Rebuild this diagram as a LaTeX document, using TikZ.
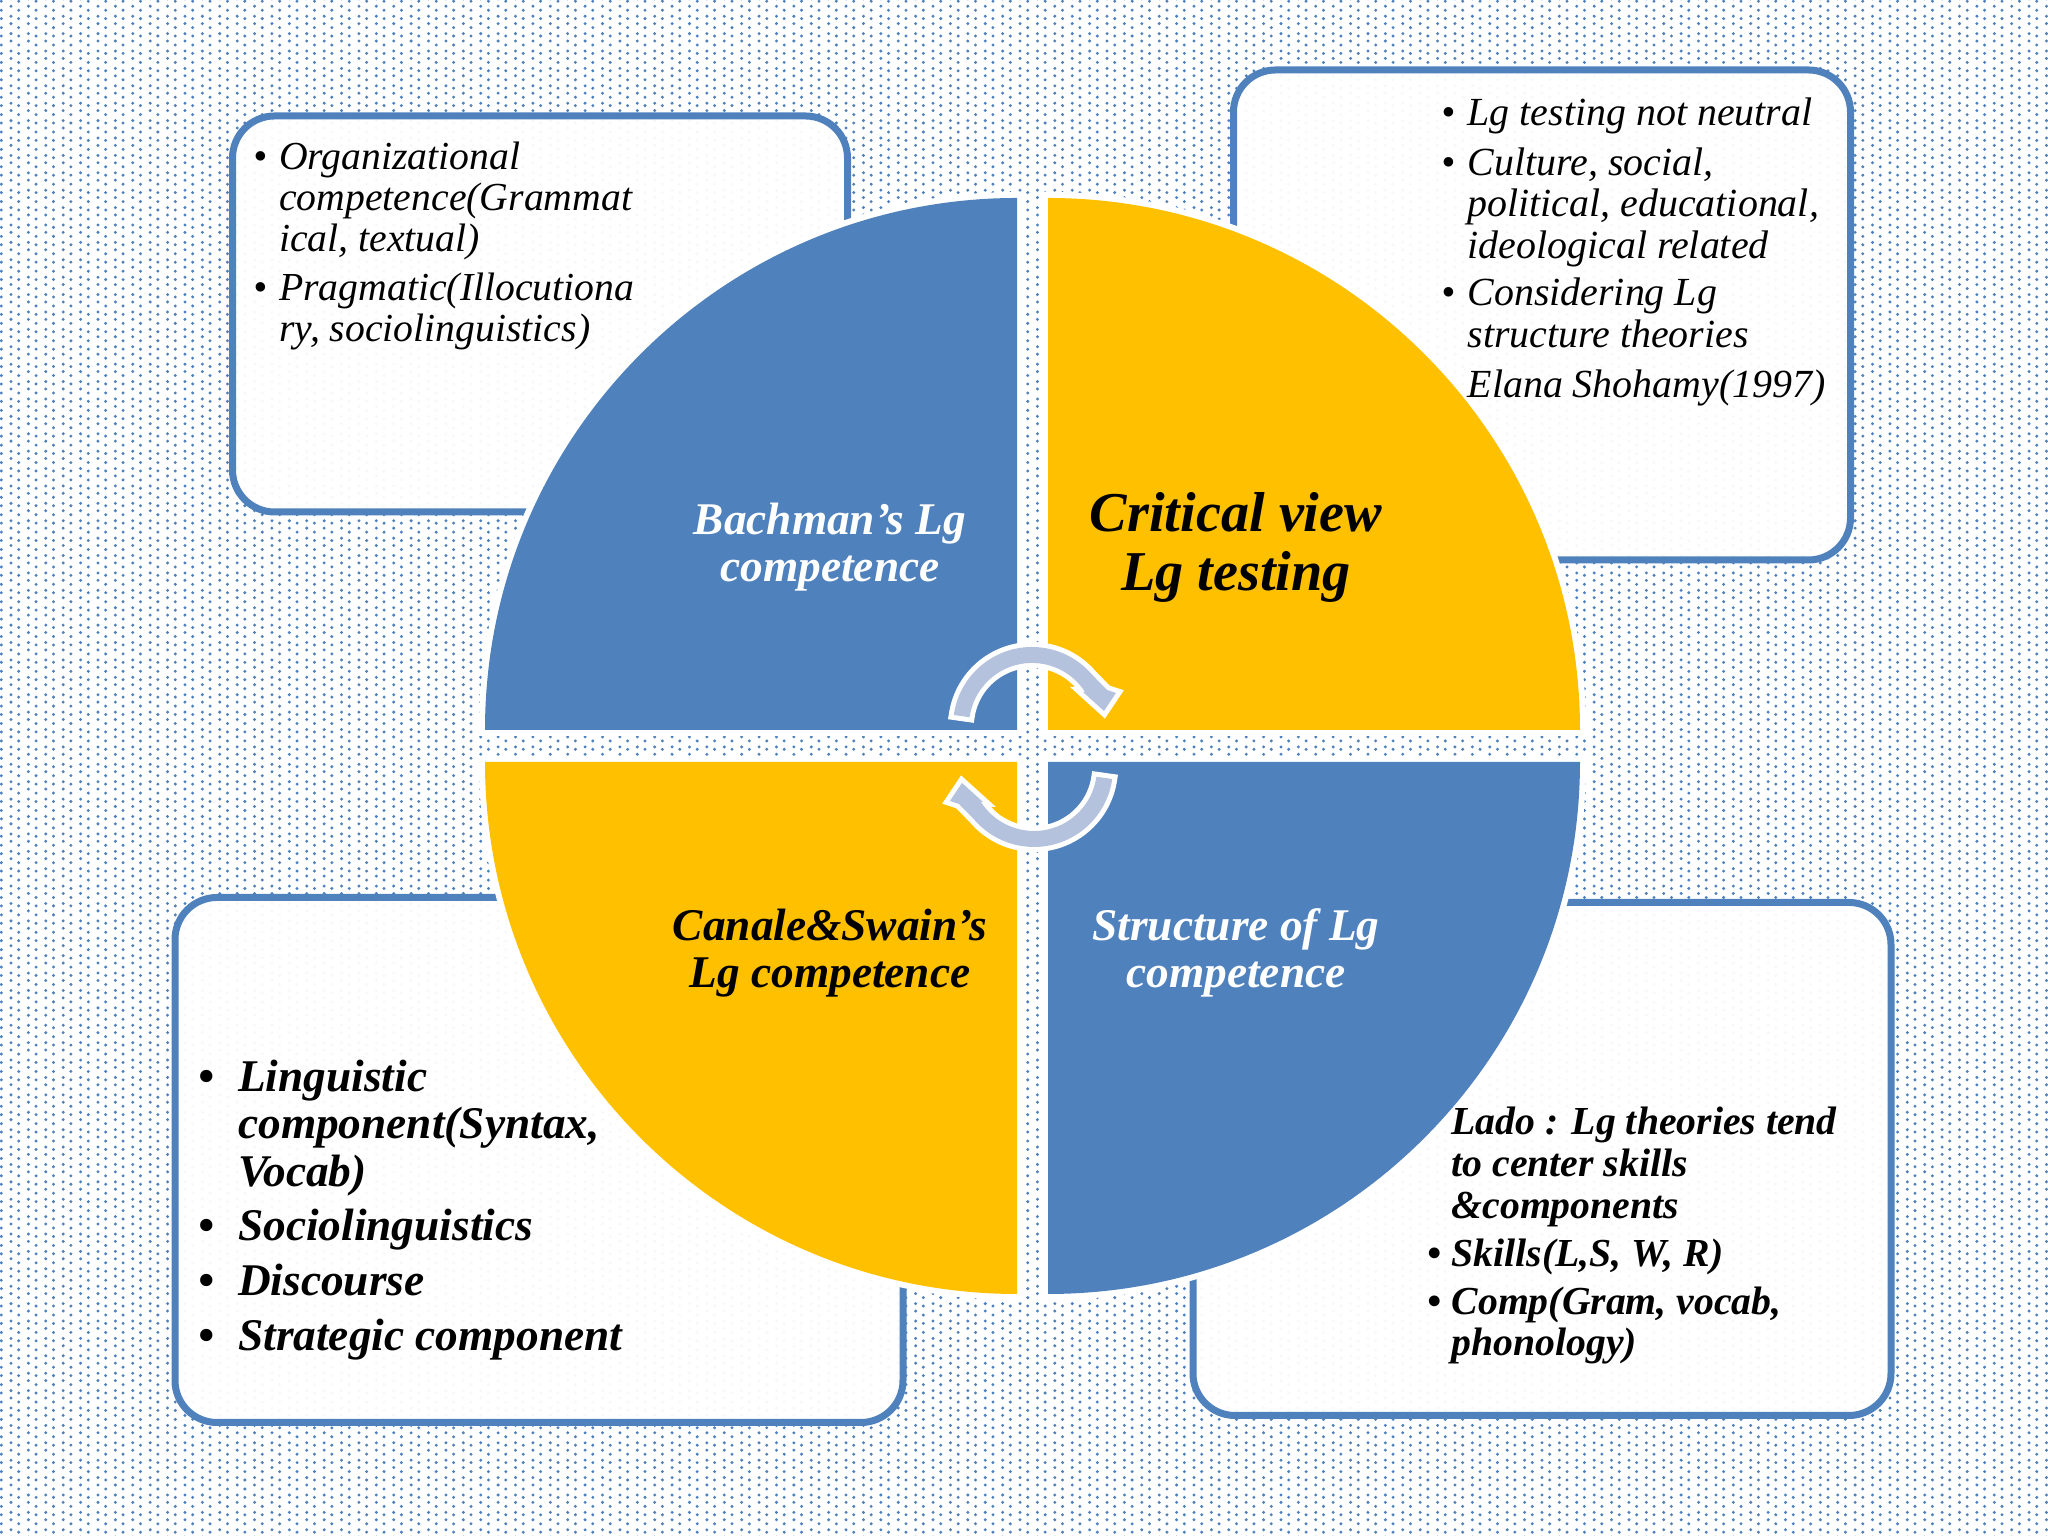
\documentclass[tikz,border=0pt]{standalone}
\usepackage{fontspec}
\setmainfont{Liberation Serif}
\usetikzlibrary{patterns}

\definecolor{boxblue}{HTML}{4F81BD}
\definecolor{quadyellow}{HTML}{FFC000}
\definecolor{arrowfill}{HTML}{B4C2DD}

\pgfdeclarepatternformonly{bgdots}{\pgfqpoint{-1pt}{-1pt}}{\pgfqpoint{6pt}{6pt}}{\pgfqpoint{4.95pt}{4.95pt}}{
  \pgfpathcircle{\pgfqpoint{3.13pt}{4.61pt}}{0.47pt}
  \pgfpathcircle{\pgfqpoint{3.13pt}{1.76pt}}{0.47pt}
  \pgfpathcircle{\pgfqpoint{0.37pt}{1.08pt}}{0.47pt}
  \pgfpathcircle{\pgfqpoint{0.37pt}{3.47pt}}{0.47pt}
  \pgfusepath{fill}
}

\newcommand{\bul}[1][3.4pt]{\leavevmode\llap{\textbullet\hspace{#1}}}

\begin{document}
\begin{tikzpicture}[
  listbox/.style={draw=boxblue,line width=0.07cm,fill=white,fill opacity=0.95,rounded corners=0.42cm,inner sep=0pt},
  quad/.style={preaction={draw=white,line width=0.12cm},line join=round},
  cyclearrow/.style={fill=arrowfill,preaction={draw=white,line width=0.1cm},line join=round},
  listtext/.style={anchor=base west,align=left,inner sep=0pt},
  quadtext/.style={anchor=base,align=center,inner sep=0pt},
]

\useasboundingbox (0,0) rectangle (20.48,15.36);
\fill [white] (0,0) rectangle (20.48,15.36);
\fill [pattern=bgdots,pattern color=boxblue] (0,0) rectangle (20.48,15.36);

% boxes behind the circle
\node [listbox,minimum width=6.15cm,minimum height=3.96cm] (boxBachman) at (5.40,12.22) {};
\node [listbox,minimum width=6.17cm,minimum height=4.90cm] (boxCritical) at (15.42,12.21) {};
\node [listbox,minimum width=7.28cm,minimum height=5.25cm] (boxCanale) at (5.39,3.76) {};
\node [listbox,minimum width=6.98cm,minimum height=5.13cm] (boxStructure) at (15.42,3.77) {};

% quadrants
\path [quad,fill=boxblue] (10.17,8.06) -- ++(-5.32,0) arc [start angle=180,end angle=90,radius=5.32] -- cycle;
\path [quad,fill=quadyellow] (10.48,8.06) -- ++(5.32,0) arc [start angle=0,end angle=90,radius=5.32] -- cycle;
\path [quad,fill=quadyellow] (10.17,7.74) -- ++(-5.32,0) arc [start angle=180,end angle=270,radius=5.32] -- cycle;
\path [quad,fill=boxblue] (10.48,7.74) -- ++(5.32,0) arc [start angle=0,end angle=-90,radius=5.32] -- cycle;

% the two round arrows
\foreach \turn in {0,180} {
  \begin{scope}[rotate around={\turn:(10.33,7.89)}]
    \path [cyclearrow] ([shift={(10.32,8.10)}]172:0.79) arc [start angle=172,end angle=40,radius=0.79]
      -- (11.07,8.46) -- (11.16,8.43) -- (11.04,8.25) -- (10.83,8.44) -- (10.89,8.44)
      -- ([shift={(10.32,8.10)}]32:0.63) arc [start angle=32,end angle=172,radius=0.63] -- cycle;
  \end{scope}
}

% quadrant titles
\node [quadtext,text=white,font=\fontsize{12.9}{13.4}\selectfont\bfseries\itshape] (titleBachman) at (8.30,9.545) {Bachman’s Lg\\competence};
\node [quadtext,text=black,font=\fontsize{16}{16.9}\selectfont\bfseries\itshape] (titleCritical) at (12.36,9.455) {Critical view\\Lg testing};
\node [quadtext,text=black,font=\fontsize{12.9}{13.4}\selectfont\bfseries\itshape] (titleCanale) at (8.30,5.485) {Canale\&Swain’s\\Lg competence};
\node [quadtext,text=white,font=\fontsize{12.9}{13.4}\selectfont\bfseries\itshape] (titleStructure) at (12.36,5.485) {Structure of Lg\\competence};

% box lists
\node [listtext,font=\fontsize{11.3}{11.66}\selectfont\itshape] (listBachman) at (2.785,11.945) {%
  \bul Organizational\\competence(Grammat\\ical, textual)\\[2.3pt]
  \bul Pragmatic(Illocutiona\\ry, sociolinguistics)};
\node [listtext,font=\fontsize{11.35}{11.9}\selectfont\itshape] (listCritical) at (14.67,11.385) {%
  \bul Lg testing not neutral\\[2.3pt]
  \bul Culture, social,\\political, educational,\\ideological related\\[1.5pt]
  \bul Considering Lg\\structure theories\\[2.3pt]
  Elana Shohamy(1997)};
\node [listtext,font=\fontsize{12.9}{13.4}\selectfont\bfseries\itshape] (listCanale) at (2.375,1.855) {%
  \bul[6.8pt]Linguistic\\component(Syntax,\\Vocab)\\[2.2pt]
  \bul[6.8pt]Sociolinguistics\\[2.2pt]
  \bul[6.8pt]Discourse\\[2.2pt]
  \bul[6.8pt]Strategic component};
\node [listtext,font=\fontsize{11.3}{11.9}\selectfont\bfseries\itshape] (listStructure) at (14.51,1.80) {%
  Lado : Lg theories tend\\to center skills\\\&components\\[1.7pt]
  \bul[2.9pt]Skills(L,S, W, R)\\[1.7pt]
  \bul[2.9pt]Comp(Gram, vocab,\\phonology)};

\end{tikzpicture}
\end{document}
